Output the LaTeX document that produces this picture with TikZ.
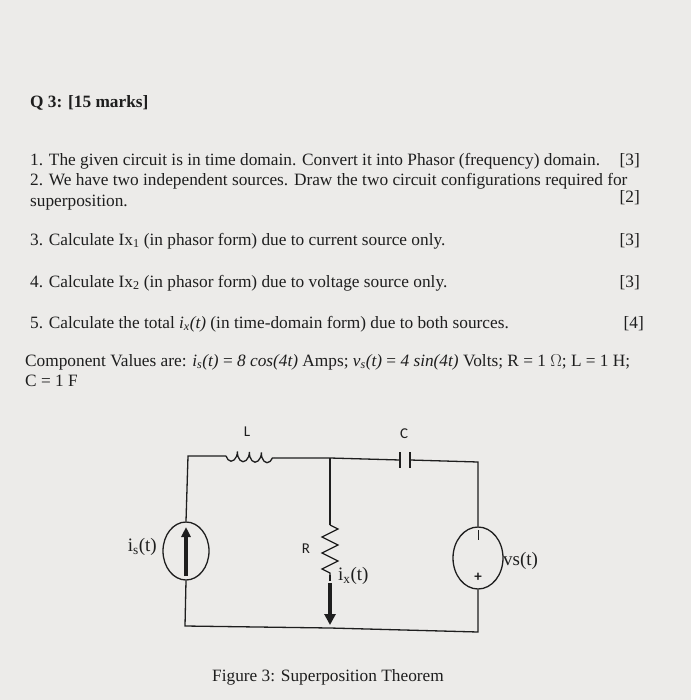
\documentclass[tikz,border=0pt]{standalone}
\usepackage{fontspec}
\setmainfont{Liberation Serif}
\newfontfamily\csans{Carlito}
\usetikzlibrary{decorations.pathmorphing,arrows.meta,shapes.geometric}
\definecolor{paper}{RGB}{236,235,233}
\definecolor{ink}{RGB}{30,30,30}
\begin{document}
\begin{tikzpicture}[x=1pt,y=-1pt,
  txt/.style={anchor=base west,inner sep=0,text=ink,font=\fontsize{17.3}{20}\selectfont},
  num/.style={anchor=base east,inner sep=0,text=ink,font=\fontsize{17.3}{20}\selectfont},
  wire/.style={draw=ink,line width=1.3pt},
  lab/.style={inner sep=0,text=ink},
  src/.style={draw=ink,line width=1.3pt,ellipse,minimum width=46,minimum height=58,inner sep=0}]
\fill[paper] (0,0) rectangle (691,700);
\useasboundingbox (0,0) rectangle (691,700);
\node[txt,font=\fontsize{17.3}{20}\selectfont\bfseries] (q) at (30,108) {Q 3: [15 marks]};
\node[txt] (l1) at (30,166) {1. The given circuit is in time domain. Convert it into Phasor (frequency) domain.};
\node[num] (n1) at (640,166) {[3]};
\node[txt] (l2) at (30,186) {2. We have two independent sources. Draw the two circuit configurations required for};
\node[txt] (l2b) at (30,207) {superposition.};
\node[num] (n2) at (640,203) {[2]};
\node[txt] (l3) at (30,245) {3. Calculate Ix\textsubscript{1} (in phasor form) due to current source only.};
\node[num] (n3) at (640,245) {[3]};
\node[txt] (l4) at (30,287) {4. Calculate Ix\textsubscript{2} (in phasor form) due to voltage source only.};
\node[num] (n4) at (640,287) {[3]};
\node[txt] (l5) at (30,328) {5. Calculate the total \textit{i\textsubscript{x}(t)} (in time-domain form) due to both sources.};
\node[num] (n5) at (644,328) {[4]};
\node[txt] (cv) at (25,366) {Component Values are: \textit{i\textsubscript{s}(t)} = \textit{8 cos(4t)} Amps; \textit{v\textsubscript{s}(t)} = \textit{4 sin(4t)} Volts; R = 1 \(\Omega\); L = 1 H;};
\node[txt] (cv2) at (25,386) {C = 1 F};
% circuit
\coordinate (tl) at (188,456);
\coordinate (tm) at (330,458);
\coordinate (tr) at (478,462);
\coordinate (bl) at (185,626);
\coordinate (bm) at (330,628);
\coordinate (br) at (478,632);
\node[src] (is) at (186,551) {};
\node[src,minimum width=50,minimum height=62] (vs) at (478,558) {};
\coordinate (la) at (226,456);
\coordinate (lb) at (274,458);
\coordinate (ca) at (400,460);
\coordinate (cb) at (410,460);
\coordinate (ra) at (330,525);
\coordinate (rb) at (330,575);
\coordinate (ar) at (330,625);
\draw[wire] (is.north) -- (tl) -- (la);
\draw[wire,decorate,decoration={coil,aspect=0.45,segment length=12pt,amplitude=5pt,mirror}] (la) -- (lb);
\draw[wire] (lb) -- (tm) -- (ca);
\draw[wire] (ca) ++(0,-8) -- ++(0,16);
\draw[wire] (cb) ++(0,-8) -- ++(0,16);
\draw[wire] (cb) -- (tr) -- (vs.north);
\draw[wire] (tm) -- (ra);
\draw[wire,decorate,decoration={zigzag,segment length=16pt,amplitude=8pt}] (ra) -- (rb);
\draw[wire] (rb) -- ++(0,6);
\draw[ink,line width=3.5pt,-{Triangle[width=11pt,length=11pt]}] (330,583) -- (ar);
\draw[wire] (is.south) -- (bl) -- (bm) -- (br) -- (vs.south);
\draw[ink,line width=3.5pt,-{Triangle[width=9pt,length=10pt]}] (186,576) -- (186,527);
\draw[ink,line width=1pt] (478,530) -- (478,540);
\node[lab,font=\csans\fontsize{15}{15}\selectfont\bfseries] at (478,577) {+};
\node[lab,font=\csans\fontsize{15}{15}\selectfont] (Ll) at (247,432) {L};
\node[lab,font=\csans\fontsize{15}{15}\selectfont] (Cl) at (404,434) {C};
\node[lab,font=\csans\fontsize{15}{15}\selectfont] (Rl) at (306,549) {R};
\node[lab,font=\fontsize{19}{20}\selectfont,anchor=east] (isl) at (157,547) {i\textsubscript{s}(t)};
\node[lab,font=\fontsize{19}{20}\selectfont,anchor=west] (ixl) at (338,576) {i\textsubscript{x}(t)};
\node[lab,font=\fontsize{19}{20}\selectfont,anchor=west] (vsl) at (503,561) {vs(t)};
\node[txt] (fig) at (212,681) {Figure 3: Superposition Theorem};
\end{tikzpicture}
\end{document}
